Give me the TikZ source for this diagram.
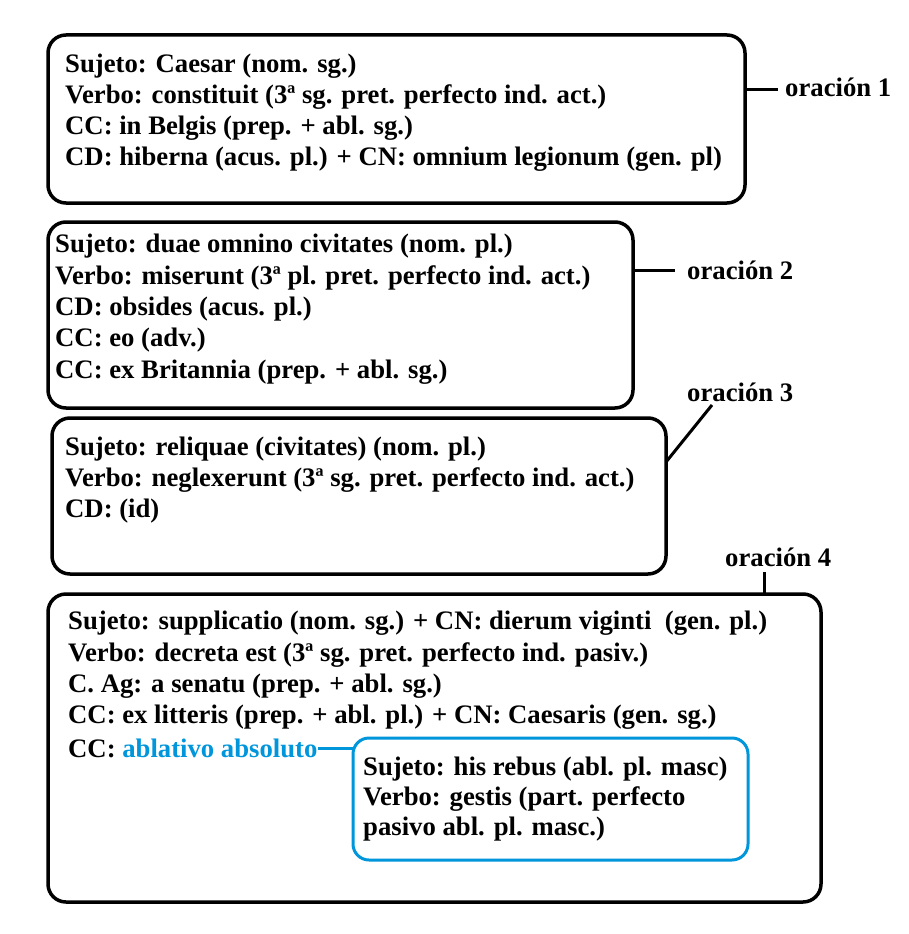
\documentclass[tikz,border=0pt]{standalone}
\usepackage{fontspec}
\setmainfont{Liberation Serif}
\begin{document}
\begin{tikzpicture}[x=1pt,y=-1pt,
  box/.style={draw=black,line width=3.5pt,rounded corners=18pt},
  bbox/.style={draw=blueA,line width=3pt,rounded corners=16pt},
  t/.style={anchor=west,inner sep=0pt,font=\fontsize{26.7}{30}\selectfont\bfseries},
  lnk/.style={line width=3pt}]
\definecolor{blueA}{RGB}{0,150,220}
\useasboundingbox (0,0) rectangle (909,934);
\fill[white] (0,0) rectangle (909,934);
\draw[box] (48,35) rectangle (745,203);
\draw[box] (48,222) rectangle (633,408);
\draw[box] (52,418) rectangle (666,574);
\draw[box] (48,594) rectangle (821,902);
\draw[bbox] (353,738) rectangle (748,860);
\coordinate (b1) at (745,89);
\coordinate (b2) at (633,270);
\coordinate (b3) at (666,462);
\coordinate (b4) at (764,594);
\coordinate (b5) at (353,748);
% box 1
\node[t] (a1) at (65,66) {Sujeto: Caesar (nom. sg.)};
\node[t] (a2) at (65,97) {Verbo: constituit (3ª sg. pret. perfecto ind. act.)};
\node[t] (a3) at (65,128) {CC: in Belgis (prep. + abl. sg.)};
\node[t] (a4) at (65,159) {CD: hiberna (acus. pl.) + CN: omnium legionum (gen. pl)};
% box 2
\node[t] (c1) at (55,246) {Sujeto: duae omnino civitates (nom. pl.)};
\node[t] (c2) at (55,278) {Verbo: miserunt (3ª pl. pret. perfecto ind. act.)};
\node[t] (c3) at (55,309) {CD: obsides (acus. pl.)};
\node[t] (c4) at (55,340) {CC: eo (adv.)};
\node[t] (c5) at (55,372) {CC: ex Britannia (prep. + abl. sg.)};
% box 3
\node[t] (d1) at (65,449) {Sujeto: reliquae (civitates) (nom. pl.)};
\node[t] (d2) at (65,480) {Verbo: neglexerunt (3ª sg. pret. perfecto ind. act.)};
\node[t] (d3) at (65,511) {CD: (id)};
% box 4
\node[t] (e1) at (68,623) {Sujeto: supplicatio (nom. sg.) + CN: dierum viginti\ \ (gen. pl.)};
\node[t] (e2) at (68,655) {Verbo: decreta est (3ª sg. pret. perfecto ind. pasiv.)};
\node[t] (e3) at (68,686) {C. Ag: a senatu (prep. + abl. sg.)};
\node[t] (e4) at (68,717) {CC: ex litteris (prep. + abl. pl.) + CN: Caesaris (gen. sg.)};
\node[t] (e5) at (68,748) {CC: \textcolor{blueA}{ablativo absoluto}};
% blue box
\node[t] (f1) at (363,769) {Sujeto: his rebus (abl. pl. masc)};
\node[t] (f2) at (363,799) {Verbo: gestis (part. perfecto};
\node[t] (f3) at (363,829) {pasivo abl. pl. masc.)};
% labels
\node[t] (o1) at (785,87) {oración 1};
\node[t] (o2) at (687,270) {oración 2};
\node[t] (o3) at (687,392) {oración 3};
\node[t] (o4) at (725,557) {oración 4};
\draw[lnk] (b1) -- (778,89);
\draw[lnk] (b2) -- (675,270);
\draw[lnk] (b3) -- (712,405);
\draw[lnk] (b4) -- (764,572);
\draw[lnk,blueA] (e5.east) -- (b5);
\end{tikzpicture}
\end{document}
